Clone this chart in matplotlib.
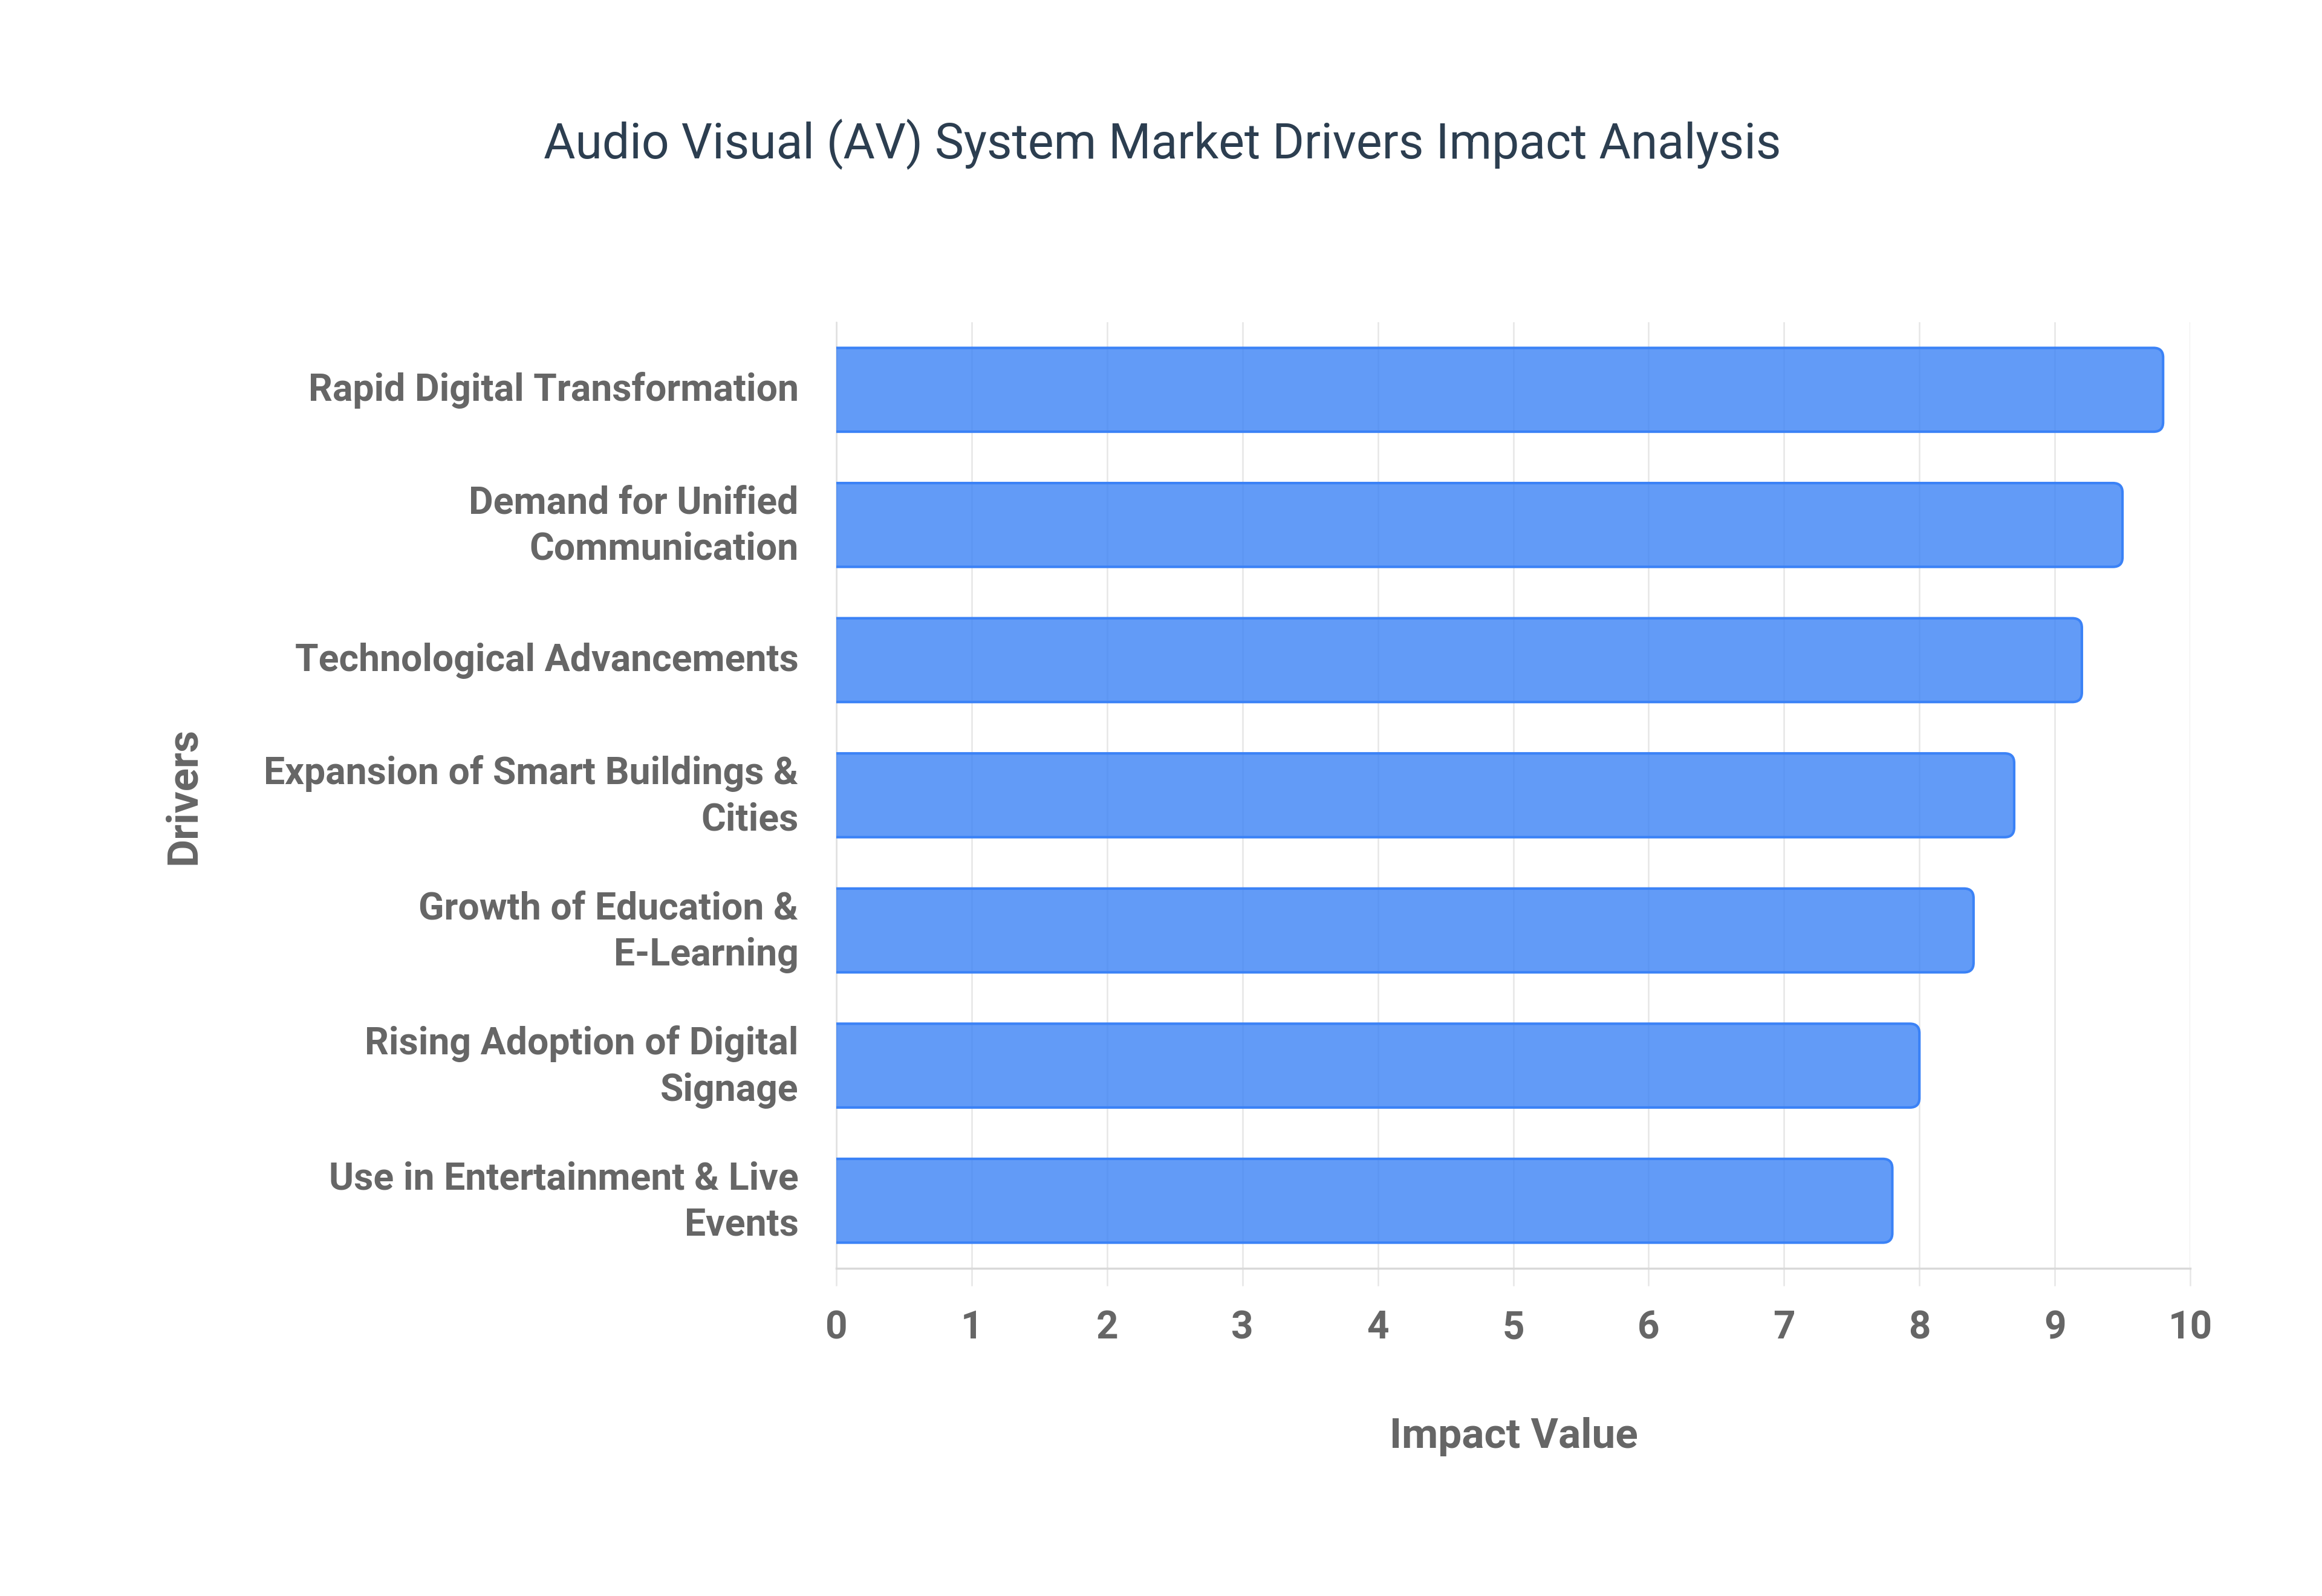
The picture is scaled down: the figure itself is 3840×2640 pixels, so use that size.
import matplotlib
matplotlib.use("Agg")
import matplotlib.pyplot as plt
from matplotlib.patches import FancyBboxPatch
from matplotlib.transforms import ScaledTranslation

# ---- data ----
drivers = [
    "Rapid Digital Transformation",
    "Demand for Unified\nCommunication",
    "Technological Advancements",
    "Expansion of Smart Buildings &\nCities",
    "Growth of Education &\nE-Learning",
    "Rising Adoption of Digital\nSignage",
    "Use in Entertainment & Live\nEvents",
]
impact = [9.8, 9.5, 9.2, 8.7, 8.4, 8.0, 7.8]
x_ticks = [0, 1, 2, 3, 4, 5, 6, 7, 8, 9, 10]

title = "Audio Visual (AV) System Market Drivers Impact Analysis"
x_label = "Impact Value"
y_label = "Drivers"

# ---- style ----
FONT = ["Roboto", "DejaVu Sans"]
plt.rcParams["font.family"] = FONT
TEXT_GRAY = "#666666"
GRID = "#e6e6e6"
EDGE = "#3b82f6"
FILL = (59 / 255, 130 / 255, 246 / 255, 0.8)

fig = plt.figure(figsize=(38.4, 26.4), dpi=100)
ax = fig.add_axes([1383 / 3840, 1 - 2098 / 2640, (3622 - 1383) / 3840, (2098 - 533) / 2640])

ypos = list(range(len(drivers)))
bars = ax.barh(ypos, impact, height=0.62, color=FILL)

# replace rectangles with end-rounded versions built from the bar geometry
r = 0.07
for b in bars:
    x0, y0 = b.get_x(), b.get_y()
    w, h = b.get_width(), b.get_height()
    b.set_visible(False)
    p = FancyBboxPatch((x0 - r, y0), w + r, h,
                       boxstyle=f"round,pad=0,rounding_size={r}",
                       facecolor=FILL, edgecolor=EDGE, linewidth=3.0,
                       zorder=3, clip_on=True)
    ax.add_patch(p)

ax.set_xlim(0, 10)
ax.set_ylim(len(drivers) - 0.5, -0.5)
ax.set_xticks(x_ticks)
ax.set_xticklabels([str(t) for t in x_ticks])
ax.set_yticks(ypos)
ax.set_yticklabels(drivers, multialignment="right", linespacing=1.35)

ax.set_axisbelow(True)
ax.grid(axis="x", color=GRID, linewidth=1.8)
ax.grid(axis="y", visible=False)

for s in ["top", "right"]:
    ax.spines[s].set_visible(False)
ax.spines["left"].set_color("#e0e0e0")
ax.spines["left"].set_linewidth(1.8)
ax.spines["bottom"].set_color("#d9d9d9")
ax.spines["bottom"].set_linewidth(2.5)

ax.tick_params(axis="x", length=21, width=1.8, color=GRID, pad=28,
               labelsize=46, labelcolor=TEXT_GRAY)
ax.tick_params(axis="y", length=0, pad=45, labelsize=45, labelcolor=TEXT_GRAY)
for lab in ax.get_xticklabels() + ax.get_yticklabels():
    lab.set_fontweight("bold")
    lab.set_family(FONT)

# small upward nudge of the category labels (two-line labels sit higher)
for lab, txt in zip(ax.get_yticklabels(), drivers):
    dy = 9 if "\n" in txt else 4
    lab.set_transform(lab.get_transform() + ScaledTranslation(0, dy / 72, fig.dpi_scale_trans))

fig.text(1922 / 3840, 1 - 262 / 2640, title, ha="center", va="baseline",
         fontsize=58, color="#2c3e50", family=FONT)
fig.text(2503 / 3840, 1 - 2395 / 2640, x_label, ha="center", va="baseline",
         fontsize=50, fontweight="bold", color=TEXT_GRAY, family=FONT)
fig.text(303 / 3840, 1 - 1316 / 2640, y_label, ha="center", va="center",
         rotation=90, fontsize=51, fontweight="bold", color=TEXT_GRAY, family=FONT)

fig.savefig("out.png", dpi=100, facecolor="white")
